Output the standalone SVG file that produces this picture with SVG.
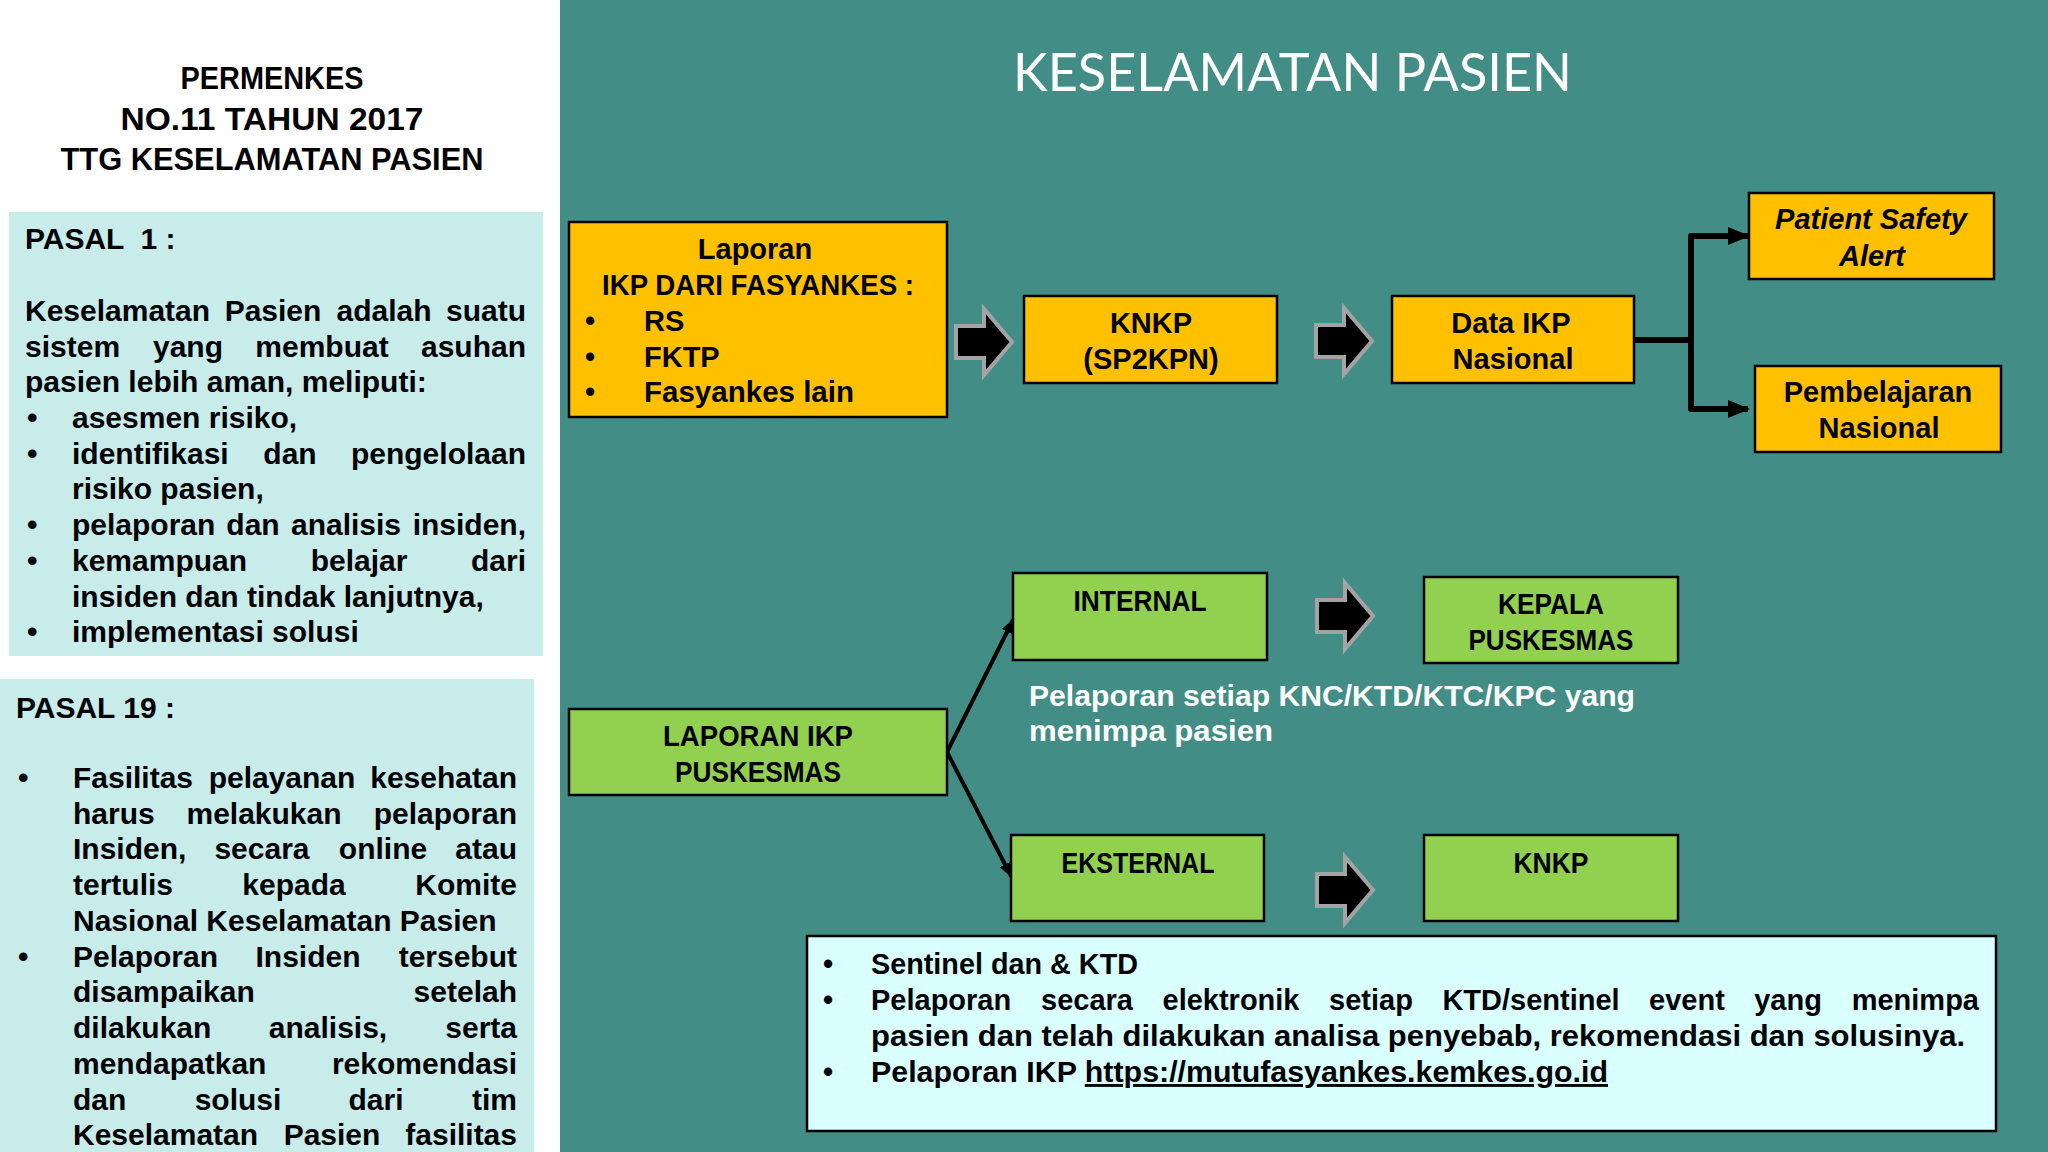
<svg xmlns="http://www.w3.org/2000/svg" width="2048" height="1152" viewBox="0 0 2048 1152">
<style>
.t{font-family:"Liberation Sans",Arial,sans-serif;font-weight:bold;fill:#000}
.p{font-size:30px}
.b{font-size:29px}
.c{text-anchor:middle}
.e{text-anchor:end}
.w{fill:#fff}
.yl{fill:#FFC000;stroke:#000;stroke-width:2.5}
.gr{fill:#92D050;stroke:#000;stroke-width:2.5}
.blk{fill:#000;stroke:#A3A3A3;stroke-width:4;stroke-linejoin:miter}
</style>
<defs>
<path id="blockArrow" d="M0,17 H28 V0 L56,33 L28,66 V49 H0 Z"/>
<marker id="ah" markerUnits="userSpaceOnUse" markerWidth="22" markerHeight="22" viewBox="0 0 22 22" refX="20" refY="11" orient="auto">
<path d="M0,2 L22,11 L0,20 Z" fill="#000"/>
</marker>
<marker id="ahs" markerUnits="userSpaceOnUse" markerWidth="14" markerHeight="14" viewBox="0 0 14 14" refX="13" refY="7" orient="auto">
<path d="M0,1 L14,7 L0,13 Z" fill="#000"/>
</marker>
</defs>

<rect x="0" y="0" width="2048" height="1152" fill="#fff"/>
<rect x="560" y="0" width="1488" height="1152" fill="#428E86"/>

<g id="left-title">
<text class="t c" x="272" y="89" font-size="30.5" textLength="183" lengthAdjust="spacingAndGlyphs">PERMENKES</text>
<text class="t c" x="272" y="130" font-size="30.5" textLength="303" lengthAdjust="spacingAndGlyphs">NO.11 TAHUN 2017</text>
<text class="t c" x="272" y="170" font-size="30.5" textLength="423" lengthAdjust="spacingAndGlyphs">TTG KESELAMATAN PASIEN</text>
</g>

<g id="pasal1">
<rect x="9" y="212" width="534" height="444" fill="#C8ECEA"/>
<text class="t p" x="25" y="249" xml:space="preserve">PASAL  1 :</text>
<text class="t p" x="25" y="321">Keselamatan</text>
<text class="t p c" x="273" y="321">Pasien</text>
<text class="t p c" x="384" y="321">adalah</text>
<text class="t p e" x="526" y="321">suatu</text>
<text class="t p" x="25" y="357">sistem</text>
<text class="t p c" x="188" y="357">yang</text>
<text class="t p c" x="322" y="357">membuat</text>
<text class="t p e" x="526" y="357">asuhan</text>
<text class="t p" x="25" y="392">pasien lebih aman, meliputi:</text>
<text class="t p" x="27" y="428">•</text>
<text class="t p" x="72" y="428">asesmen risiko,</text>
<text class="t p" x="27" y="464">•</text>
<text class="t p" x="72" y="464">identifikasi</text>
<text class="t p c" x="290" y="464">dan</text>
<text class="t p e" x="526" y="464">pengelolaan</text>
<text class="t p" x="72" y="499">risiko pasien,</text>
<text class="t p" x="27" y="535">•</text>
<text class="t p" x="72" y="535">pelaporan</text>
<text class="t p c" x="253" y="535">dan</text>
<text class="t p c" x="346" y="535">analisis</text>
<text class="t p e" x="526" y="535">insiden,</text>
<text class="t p" x="27" y="571">•</text>
<text class="t p" x="72" y="571">kemampuan</text>
<text class="t p c" x="359" y="571">belajar</text>
<text class="t p e" x="526" y="571">dari</text>
<text class="t p" x="72" y="607">insiden dan tindak lanjutnya,</text>
<text class="t p" x="27" y="642">•</text>
<text class="t p" x="72" y="642">implementasi solusi</text>
</g>

<g id="pasal19">
<rect x="0" y="679" width="534" height="473" fill="#C8ECEA"/>
<text class="t p" x="16" y="718">PASAL 19 :</text>
<text class="t p" x="18" y="788">•</text>
<text class="t p" x="73" y="788">Fasilitas</text>
<text class="t p c" x="282" y="788">pelayanan</text>
<text class="t p e" x="517" y="788">kesehatan</text>
<text class="t p" x="73" y="824">harus</text>
<text class="t p c" x="264" y="824">melakukan</text>
<text class="t p e" x="517" y="824">pelaporan</text>
<text class="t p" x="73" y="859">Insiden,</text>
<text class="t p c" x="262" y="859">secara</text>
<text class="t p c" x="383" y="859">online</text>
<text class="t p e" x="517" y="859">atau</text>
<text class="t p" x="73" y="895">tertulis</text>
<text class="t p c" x="294" y="895">kepada</text>
<text class="t p e" x="517" y="895">Komite</text>
<text class="t p" x="73" y="931">Nasional Keselamatan Pasien</text>
<text class="t p" x="18" y="967">•</text>
<text class="t p" x="73" y="967">Pelaporan</text>
<text class="t p c" x="308" y="967">Insiden</text>
<text class="t p e" x="517" y="967">tersebut</text>
<text class="t p" x="73" y="1002">disampaikan</text>
<text class="t p e" x="517" y="1002">setelah</text>
<text class="t p" x="73" y="1038">dilakukan</text>
<text class="t p c" x="328" y="1038">analisis,</text>
<text class="t p e" x="517" y="1038">serta</text>
<text class="t p" x="73" y="1074">mendapatkan</text>
<text class="t p e" x="517" y="1074">rekomendasi</text>
<text class="t p" x="73" y="1110">dan</text>
<text class="t p c" x="238" y="1110">solusi</text>
<text class="t p c" x="376" y="1110">dari</text>
<text class="t p e" x="517" y="1110">tim</text>
<text class="t p" x="73" y="1145">Keselamatan</text>
<text class="t p c" x="332" y="1145">Pasien</text>
<text class="t p e" x="517" y="1145">fasilitas</text>
</g>

<g id="main-title">
<text x="1013" y="91" font-family="Lato,'Noto Sans','Liberation Sans',sans-serif" font-weight="400" font-size="53" fill="#fff" textLength="559" lengthAdjust="spacingAndGlyphs">KESELAMATAN PASIEN</text>
</g>

<g id="connectors">
<use href="#blockArrow" class="blk" x="956" y="309"/>
<use href="#blockArrow" class="blk" x="1316" y="308"/>
<use href="#blockArrow" class="blk" x="1317" y="583"/>
<use href="#blockArrow" class="blk" x="1317" y="857"/>
<path d="M1634,340 H1691" stroke="#000" stroke-width="6" fill="none"/>
<path d="M1691,409 V236 H1748" stroke="#000" stroke-width="6" fill="none" stroke-linejoin="round" marker-end="url(#ah)"/>
<path d="M1691,340 V409 H1748" stroke="#000" stroke-width="6" fill="none" stroke-linejoin="round" marker-end="url(#ah)"/>
<path d="M947,752 L1013,620" stroke="#000" stroke-width="4" fill="none" marker-end="url(#ahs)"/>
<path d="M947,752 L1011,876" stroke="#000" stroke-width="4" fill="none" marker-end="url(#ahs)"/>
</g>

<g id="laporan-fasyankes">
<rect class="yl" x="569" y="222" width="378" height="195"/>
<text class="t b c" x="755" y="259">Laporan</text>
<text class="t b" x="602" y="295" textLength="312" lengthAdjust="spacingAndGlyphs">IKP DARI FASYANKES :</text>
<text class="t b" x="585" y="331">•</text>
<text class="t b" x="644" y="331">RS</text>
<text class="t b" x="585" y="367">•</text>
<text class="t b" x="644" y="367">FKTP</text>
<text class="t b" x="585" y="402">•</text>
<text class="t b" x="644" y="402" textLength="210" lengthAdjust="spacingAndGlyphs">Fasyankes lain</text>
</g>

<g id="knkp-sp2kpn">
<rect class="yl" x="1024" y="296" width="253" height="87"/>
<text class="t b c" x="1151" y="333">KNKP</text>
<text class="t b c" x="1151" y="369">(SP2KPN)</text>
</g>

<g id="data-ikp">
<rect class="yl" x="1392" y="296" width="242" height="87"/>
<text class="t b c" x="1511" y="333">Data IKP</text>
<text class="t b c" x="1513" y="369">Nasional</text>
</g>

<g id="patient-safety-alert">
<rect class="yl" x="1749" y="193" width="245" height="86"/>
<text class="t b c" x="1871" y="229" font-style="italic">Patient Safety</text>
<text class="t b c" x="1872" y="266" font-style="italic">Alert</text>
</g>

<g id="pembelajaran">
<rect class="yl" x="1755" y="366" width="246" height="86"/>
<text class="t b c" x="1878" y="402">Pembelajaran</text>
<text class="t b c" x="1879" y="438">Nasional</text>
</g>

<g id="laporan-puskesmas">
<rect class="gr" x="569" y="709" width="378" height="86"/>
<text class="t b c" x="758" y="746" textLength="190" lengthAdjust="spacingAndGlyphs">LAPORAN IKP</text>
<text class="t b c" x="758" y="782" textLength="166" lengthAdjust="spacingAndGlyphs">PUSKESMAS</text>
</g>

<g id="internal">
<rect class="gr" x="1013" y="573" width="254" height="87"/>
<text class="t b c" x="1140" y="611" textLength="133" lengthAdjust="spacingAndGlyphs">INTERNAL</text>
</g>

<g id="kepala-puskesmas">
<rect class="gr" x="1424" y="577" width="254" height="86"/>
<text class="t b c" x="1551" y="614" textLength="106" lengthAdjust="spacingAndGlyphs">KEPALA</text>
<text class="t b c" x="1551" y="650" textLength="165" lengthAdjust="spacingAndGlyphs">PUSKESMAS</text>
</g>

<g id="eksternal">
<rect class="gr" x="1011" y="835" width="253" height="86"/>
<text class="t b c" x="1138" y="873" textLength="153" lengthAdjust="spacingAndGlyphs">EKSTERNAL</text>
</g>

<g id="knkp">
<rect class="gr" x="1424" y="835" width="254" height="86"/>
<text class="t b c" x="1551" y="873" textLength="75" lengthAdjust="spacingAndGlyphs">KNKP</text>
</g>

<g id="note-internal">
<text class="t b w" x="1029" y="706" textLength="606" lengthAdjust="spacingAndGlyphs">Pelaporan setiap KNC/KTD/KTC/KPC yang</text>
<text class="t b w" x="1029" y="741" textLength="244" lengthAdjust="spacingAndGlyphs">menimpa pasien</text>
</g>

<g id="note-eksternal">
<rect x="807" y="936" width="1189" height="195" fill="#D9FFFF" stroke="#000" stroke-width="2.5"/>
<text class="t b" x="823" y="974">•</text>
<text class="t b" x="871" y="974" textLength="267" lengthAdjust="spacingAndGlyphs">Sentinel dan &amp; KTD</text>
<text class="t b" x="823" y="1010">•</text>
<text class="t b" x="871" y="1010">Pelaporan</text>
<text class="t b c" x="1087" y="1010">secara</text>
<text class="t b c" x="1231" y="1010">elektronik</text>
<text class="t b c" x="1371" y="1010">setiap</text>
<text class="t b c" x="1531" y="1010">KTD/sentinel</text>
<text class="t b c" x="1687" y="1010">event</text>
<text class="t b c" x="1788" y="1010">yang</text>
<text class="t b e" x="1979" y="1010">menimpa</text>
<text class="t b" x="871" y="1046" textLength="1094" lengthAdjust="spacingAndGlyphs">pasien dan telah dilakukan analisa penyebab, rekomendasi dan solusinya.</text>
<text class="t b" x="823" y="1082">•</text>
<text class="t b" x="871" y="1082" textLength="737" lengthAdjust="spacingAndGlyphs">Pelaporan IKP <tspan text-decoration="underline">https://mutufasyankes.kemkes.go.id</tspan></text>
</g>
</svg>
